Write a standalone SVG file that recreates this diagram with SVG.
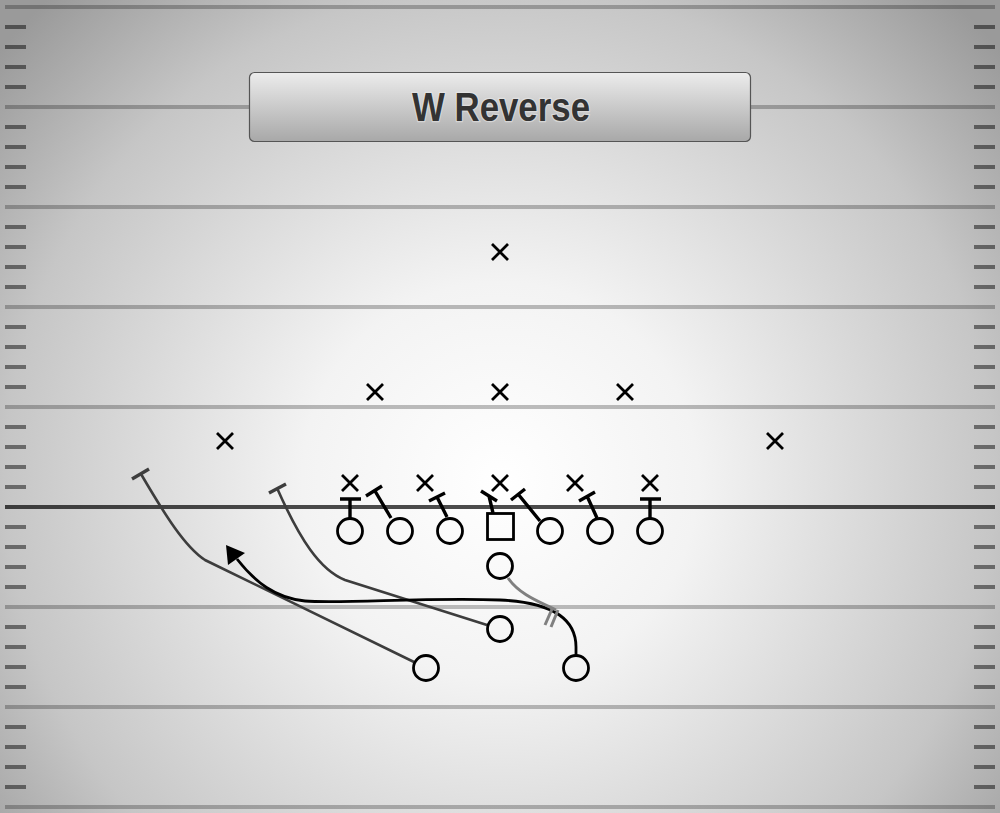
<svg xmlns="http://www.w3.org/2000/svg" width="1000" height="813" viewBox="0 0 1000 813">
<defs>
<radialGradient id="bg" gradientUnits="userSpaceOnUse" cx="500" cy="480" r="660">
<stop offset="0" stop-color="#ffffff"/>
<stop offset="0.3" stop-color="#f3f3f3"/>
<stop offset="0.75" stop-color="#c6c6c6"/>
<stop offset="1" stop-color="#9a9a9a"/>
</radialGradient>
<linearGradient id="title" x1="0" y1="0" x2="0" y2="1">
<stop offset="0" stop-color="#ececec"/>
<stop offset="1" stop-color="#a8a8a8"/>
</linearGradient>
</defs>
<style>
.yl{stroke:#000;stroke-opacity:0.25;stroke-width:4}
.los{stroke:#000;stroke-opacity:0.7;stroke-width:4}
.hm{fill:#000;fill-opacity:0.47}
.x{stroke:#000;stroke-width:2.8;fill:none}
.o{stroke:#000;stroke-width:2.8;fill:none}
.blk{stroke:#000;stroke-width:3.4;fill:none}
.rt{stroke:#3d3d3d;stroke-width:2.6;fill:none}
.rtb{stroke:#3d3d3d;stroke-width:3.4;fill:none}
.rev{stroke:#000;stroke-width:2.8;fill:none}
.pitch{stroke:#808080;stroke-width:3;fill:none}
.ttl{font-family:"Liberation Sans",Arial,sans-serif;font-size:40px;font-weight:bold;fill:#333;}
</style>
<rect width="1000" height="813" fill="url(#bg)"/>
<g id="field">
<line class="yl" x1="5" y1="7" x2="995" y2="7"/>
<line class="yl" x1="5" y1="107" x2="995" y2="107"/>
<line class="yl" x1="5" y1="207" x2="995" y2="207"/>
<line class="yl" x1="5" y1="307" x2="995" y2="307"/>
<line class="yl" x1="5" y1="407" x2="995" y2="407"/>
<line class="los" x1="5" y1="507" x2="995" y2="507"/>
<line class="yl" x1="5" y1="607" x2="995" y2="607"/>
<line class="yl" x1="5" y1="707" x2="995" y2="707"/>
<line class="yl" x1="5" y1="807" x2="995" y2="807"/>
<g id="hashL">
<rect class="hm" x="5" y="25" width="21" height="4"/><rect class="hm" x="5" y="45" width="21" height="4"/><rect class="hm" x="5" y="65" width="21" height="4"/><rect class="hm" x="5" y="85" width="21" height="4"/>
<rect class="hm" x="5" y="125" width="21" height="4"/><rect class="hm" x="5" y="145" width="21" height="4"/><rect class="hm" x="5" y="165" width="21" height="4"/><rect class="hm" x="5" y="185" width="21" height="4"/>
<rect class="hm" x="5" y="225" width="21" height="4"/><rect class="hm" x="5" y="245" width="21" height="4"/><rect class="hm" x="5" y="265" width="21" height="4"/><rect class="hm" x="5" y="285" width="21" height="4"/>
<rect class="hm" x="5" y="325" width="21" height="4"/><rect class="hm" x="5" y="345" width="21" height="4"/><rect class="hm" x="5" y="365" width="21" height="4"/><rect class="hm" x="5" y="385" width="21" height="4"/>
<rect class="hm" x="5" y="425" width="21" height="4"/><rect class="hm" x="5" y="445" width="21" height="4"/><rect class="hm" x="5" y="465" width="21" height="4"/><rect class="hm" x="5" y="485" width="21" height="4"/>
<rect class="hm" x="5" y="525" width="21" height="4"/><rect class="hm" x="5" y="545" width="21" height="4"/><rect class="hm" x="5" y="565" width="21" height="4"/><rect class="hm" x="5" y="585" width="21" height="4"/>
<rect class="hm" x="5" y="625" width="21" height="4"/><rect class="hm" x="5" y="645" width="21" height="4"/><rect class="hm" x="5" y="665" width="21" height="4"/><rect class="hm" x="5" y="685" width="21" height="4"/>
<rect class="hm" x="5" y="725" width="21" height="4"/><rect class="hm" x="5" y="745" width="21" height="4"/><rect class="hm" x="5" y="765" width="21" height="4"/><rect class="hm" x="5" y="785" width="21" height="4"/>
</g>
<use href="#hashL" transform="translate(969,0)"/>
</g>
<g id="title-box">
<rect x="249.5" y="72.5" width="501" height="69" rx="5" fill="url(#title)" stroke="#555" stroke-width="1.2"/>
<text class="ttl" x="501" y="121" text-anchor="middle" textLength="178" lengthAdjust="spacingAndGlyphs" stroke="#eee" stroke-width="2.5" stroke-opacity="0.5" paint-order="stroke">W Reverse</text>
</g>
<g id="defense">
<path class="x" d="M492,244 L508,260 M508,244 L492,260"/>
<path class="x" d="M367,384 L383,400 M383,384 L367,400"/>
<path class="x" d="M492,384 L508,400 M508,384 L492,400"/>
<path class="x" d="M617,384 L633,400 M633,384 L617,400"/>
<path class="x" d="M217,433 L233,449 M233,433 L217,449"/>
<path class="x" d="M767,433 L783,449 M783,433 L767,449"/>
<path class="x" d="M342,475 L358,491 M358,475 L342,491"/>
<path class="x" d="M417,475 L433,491 M433,475 L417,491"/>
<path class="x" d="M492,475 L508,491 M508,475 L492,491"/>
<path class="x" d="M567,475 L583,491 M583,475 L567,491"/>
<path class="x" d="M642,475 L658,491 M658,475 L642,491"/>
</g>
<g id="connectors">
<path class="rt" d="M414,662 L205,560 C185,547 165,515 141,474"/>
<path class="rtb" d="M132,479 L149,469"/>
<path class="rt" d="M487,625 L345,580 C320,570 300,540 277,488"/>
<path class="rtb" d="M269,493 L286,484"/>
<path class="rev" d="M576,655 L576,647 C576,615 545,602 500,600 C430,597 340,604 305,601 C275,598 255,582 237,559"/>
<polygon points="226,545 245,553 228,565" fill="#000"/>
<path class="pitch" d="M508,578 C520,595 540,602 556,610"/>
<path class="pitch" d="M545,625 L552,609 M551,627 L558,610" stroke-width="2.5"/>
<path class="blk" d="M350,518 L350,499 M340,499 L361,499"/>
<path class="blk" d="M391,518 L375,491 M366,496 L382,486"/>
<path class="blk" d="M447,517 L437,497 M429,501 L445,493"/>
<path class="blk" d="M493,513 L489,496 M481,491 L497,501"/>
<path class="blk" d="M540,521 L518,494 M511,500 L525,489"/>
<path class="blk" d="M597,518 L587,496 M579,501 L595,492"/>
<path class="blk" d="M650,518 L650,499 M640,499 L661,499"/>
</g>
<g id="offense">
<circle class="o" cx="350" cy="531" r="12.5"/>
<circle class="o" cx="400" cy="531" r="12.5"/>
<circle class="o" cx="450" cy="531" r="12.5"/>
<rect class="o" x="487.5" y="513.5" width="26" height="26"/>
<circle class="o" cx="550" cy="531" r="12.5"/>
<circle class="o" cx="600" cy="531" r="12.5"/>
<circle class="o" cx="650" cy="531" r="12.5"/>
<circle class="o" cx="500" cy="566" r="12.5"/>
<circle class="o" cx="500" cy="629" r="12.5"/>
<circle class="o" cx="426" cy="668" r="12.5"/>
<circle class="o" cx="576" cy="668" r="12.5"/>
</g>
</svg>
